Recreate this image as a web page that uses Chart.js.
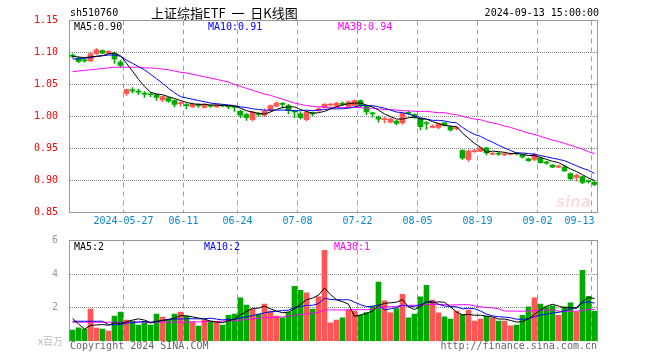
<!DOCTYPE html>
<html>
<head>
<meta charset="utf-8">
<script src="https://cdn.jsdelivr.net/npm/chart.js@4.4.1/dist/chart.umd.min.js"></script>
<style>
  body { margin: 0; background: #fff; }
  #wrap { position: relative; width: 660px; height: 360px; overflow: hidden; font-family: "DejaVu Sans Mono", monospace; font-size: 10px; }
  canvas { position: absolute; left: 0; top: 0; }
  .t { position: absolute; white-space: pre; line-height: 12px; }
</style>
</head>
<body>
<div id="wrap">
  <canvas id="kline" width="660" height="360"></canvas>
  <canvas id="vol" width="660" height="360"></canvas>
  <div class="t" style="left:70px;top:7px;color:#000;">sh510760</div>
  <div class="t" style="left:151px;top:4px;font:13px 'Noto Sans CJK SC';line-height:17px;color:#000;">上证综指ETF  一  日K线图</div>
  <div class="t" style="right:61px;top:7px;color:#000;">2024-09-13 15:00:00</div>
  <div class="t" id="ma5" style="left:74px;top:21px;color:#000;"></div>
  <div class="t" id="ma10" style="left:208px;top:21px;color:#0000ff;"></div>
  <div class="t" id="ma30" style="left:338px;top:21px;color:#ff00ff;"></div>
  <div class="t" id="vma5" style="left:74px;top:241px;color:#000;"></div>
  <div class="t" id="vma10" style="left:204px;top:241px;color:#0000ff;"></div>
  <div class="t" id="vma30" style="left:334px;top:241px;color:#ff00ff;"></div>
  <div class="t" style="left:38px;top:335px;font:10px 'Noto Sans CJK SC';line-height:12px;color:#bbb;">x百万</div>
  <div class="t" style="left:70px;top:340px;color:#666;">Copyright 2024 SINA.COM</div>
  <div class="t" style="right:63px;top:340px;color:#666;">http://finance.sina.com.cn</div>
  <div class="t" style="left:556px;top:193px;font:italic bold 15px 'DejaVu Sans';color:rgba(240,140,140,0.28);">sina</div>
</div>
<script>
const dates = ['05-14','05-15','05-16','05-17','05-20','05-21','05-22','05-23','05-24','05-27','05-28','05-29','05-30','05-31',
  '06-03','06-04','06-05','06-06','06-07','06-11','06-12','06-13','06-14','06-17','06-18','06-19','06-20','06-21','06-24','06-25','06-26','06-27','06-28',
  '07-01','07-02','07-03','07-04','07-05','07-08','07-09','07-10','07-11','07-12','07-15','07-16','07-17','07-18','07-19','07-22','07-23','07-24','07-25','07-26','07-29','07-30','07-31',
  '08-01','08-02','08-05','08-06','08-07','08-08','08-09','08-12','08-13','08-14','08-15','08-16','08-19','08-20','08-21','08-22','08-23','08-26','08-27','08-28','08-29','08-30',
  '09-02','09-03','09-04','09-05','09-06','09-09','09-10','09-11','09-12','09-13'];
const tickLabels = ['2024-05-27','06-11','06-24','07-08','07-22','08-05','08-19','09-02','09-13'];
const priceTicks = [0.85, 0.90, 0.95, 1.00, 1.05, 1.10, 1.15];
const volTicks = [0, 2, 4, 6];

const opens = [1.096,1.091,1.088,1.087,1.098,1.103,1.099,1.098,1.085,1.036,1.041,1.039,1.036,1.035,1.034,1.026,1.029,1.025,1.020,1.018,
  1.015,1.018,1.014,1.017,1.015,1.018,1.016,1.015,1.008,1.003,0.995,1.004,1.002,1.009,1.016,1.020,1.017,1.008,1.004,0.995,
  1.005,1.009,1.014,1.018,1.016,1.020,1.015,1.017,1.025,1.016,1.005,0.999,0.995,0.991,0.993,0.990,1.006,1.003,0.996,0.990,
  0.983,0.983,0.990,0.984,0.981,0.947,0.933,0.945,0.946,0.951,0.941,0.942,0.940,0.941,0.943,0.940,0.934,0.933,0.935,0.929,
  0.924,0.921,0.921,0.911,0.905,0.906,0.899,0.897];
const closes = [1.094,1.086,1.087,1.098,1.104,1.099,1.102,1.090,1.080,1.042,1.040,1.038,1.035,1.034,1.030,1.031,1.024,1.019,1.021,1.017,
  1.019,1.017,1.019,1.016,1.018,1.017,1.015,1.014,1.002,0.998,1.007,1.003,1.008,1.017,1.021,1.019,1.009,1.007,0.998,1.007,
  1.004,1.012,1.019,1.019,1.021,1.019,1.023,1.025,1.017,1.007,1.004,0.996,0.996,0.996,0.989,1.005,1.005,0.999,0.984,0.989,
  0.984,0.989,0.986,0.979,0.982,0.935,0.946,0.946,0.951,0.943,0.942,0.941,0.941,0.942,0.942,0.937,0.931,0.941,0.928,0.927,
  0.921,0.922,0.915,0.903,0.908,0.897,0.898,0.894];
const highs = [1.098,1.093,1.090,1.100,1.106,1.104,1.103,1.101,1.088,1.043,1.045,1.043,1.039,1.037,1.036,1.032,1.030,1.026,1.023,1.020,
  1.021,1.020,1.020,1.018,1.019,1.019,1.017,1.016,1.010,1.005,1.008,1.006,1.012,1.018,1.023,1.022,1.019,1.010,1.007,1.008,
  1.007,1.014,1.020,1.020,1.022,1.023,1.024,1.026,1.026,1.017,1.006,1.001,0.999,0.998,0.994,1.006,1.008,1.004,0.997,0.992,
  0.987,0.990,0.991,0.985,0.985,0.948,0.948,0.949,0.952,0.952,0.944,0.944,0.943,0.943,0.944,0.941,0.935,0.943,0.937,0.930,
  0.925,0.924,0.924,0.912,0.910,0.907,0.901,0.900];
const lows = [1.092,1.084,1.085,1.086,1.097,1.098,1.097,1.083,1.077,1.033,1.037,1.034,1.030,1.031,1.025,1.023,1.022,1.015,1.016,1.012,
  1.014,1.014,1.013,1.014,1.014,1.015,1.012,1.008,0.998,0.994,0.993,1.000,1.000,1.008,1.015,1.013,1.004,0.998,0.996,0.993,
  1.001,1.008,1.013,1.016,1.015,1.017,1.014,1.016,1.014,1.003,0.999,0.991,0.990,0.990,0.987,0.988,1.003,0.997,0.979,0.980,
  0.982,0.981,0.985,0.977,0.979,0.933,0.930,0.944,0.945,0.940,0.940,0.939,0.939,0.940,0.940,0.935,0.930,0.931,0.927,0.925,
  0.920,0.920,0.914,0.900,0.899,0.895,0.896,0.892];

const ma5 = [1.094,1.093,1.092,1.093,1.094,1.095,1.098,1.099,1.095,1.083,1.071,1.058,1.047,1.038,1.035,1.034,1.031,1.028,1.025,1.022,
  1.020,1.019,1.019,1.018,1.018,1.017,1.017,1.016,1.013,1.009,1.007,1.005,1.004,1.007,1.011,1.014,1.015,1.015,1.011,1.008,
  1.005,1.006,1.008,1.012,1.015,1.018,1.020,1.021,1.021,1.018,1.015,1.010,1.004,1.000,0.996,0.996,0.998,0.999,0.996,0.996,
  0.992,0.989,0.986,0.985,0.984,0.974,0.966,0.958,0.952,0.944,0.946,0.945,0.944,0.942,0.942,0.941,0.939,0.939,0.936,0.933,
  0.930,0.928,0.923,0.918,0.914,0.909,0.904,0.900];
const ma10 = [1.090,1.090,1.091,1.092,1.094,1.095,1.096,1.096,1.094,1.088,1.083,1.078,1.073,1.066,1.059,1.052,1.044,1.037,1.031,1.029,
  1.027,1.025,1.023,1.021,1.020,1.019,1.018,1.017,1.015,1.014,1.012,1.011,1.010,1.010,1.010,1.010,1.010,1.009,1.009,1.010,
  1.009,1.010,1.011,1.012,1.012,1.012,1.013,1.015,1.017,1.017,1.017,1.015,1.013,1.010,1.007,1.006,1.004,1.001,0.998,0.996,
  0.994,0.994,0.993,0.991,0.990,0.983,0.977,0.972,0.969,0.964,0.960,0.955,0.951,0.947,0.943,0.943,0.942,0.941,0.939,0.937,
  0.935,0.933,0.931,0.927,0.923,0.919,0.916,0.911];
const ma30 = [1.070,1.071,1.072,1.073,1.074,1.075,1.076,1.077,1.077,1.077,1.077,1.077,1.076,1.076,1.075,1.074,1.073,1.071,1.069,1.068,
  1.066,1.064,1.062,1.060,1.058,1.056,1.054,1.050,1.047,1.044,1.041,1.038,1.035,1.033,1.030,1.027,1.024,1.021,1.019,1.017,
  1.016,1.015,1.015,1.014,1.014,1.014,1.014,1.014,1.014,1.013,1.013,1.012,1.011,1.011,1.010,1.009,1.009,1.008,1.008,1.008,
  1.007,1.006,1.006,1.004,1.003,1.000,0.998,0.996,0.995,0.992,0.990,0.988,0.985,0.983,0.980,0.977,0.974,0.972,0.969,0.966,
  0.963,0.961,0.958,0.955,0.952,0.949,0.945,0.942];

// volume, millions
const volumes = [0.65,0.79,0.71,1.90,0.77,0.71,0.59,1.49,1.72,1.25,1.19,0.95,1.15,0.95,1.60,1.43,1.25,1.60,1.72,1.49,
  1.15,0.89,1.25,1.19,1.15,0.95,1.54,1.60,2.57,2.14,1.90,1.60,2.20,1.78,1.49,1.39,1.72,3.27,3.03,2.87,
  1.90,2.63,5.41,1.09,1.25,1.39,1.84,1.78,1.54,1.70,2.08,3.52,2.40,1.68,1.94,2.79,1.39,1.60,2.63,3.33,
  2.44,1.68,1.45,1.31,1.78,1.58,1.84,1.19,1.31,1.49,1.39,1.19,1.19,0.91,0.95,1.54,2.04,2.57,2.20,2.04,
  2.10,1.54,2.04,2.28,1.74,4.22,2.67,1.78];
const vma5 = [1.35,1.02,0.72,0.93,0.96,0.98,0.94,1.09,1.06,1.15,1.25,1.32,1.25,1.10,1.17,1.22,1.28,1.37,1.52,1.50,
  1.44,1.37,1.30,1.19,1.13,1.09,1.22,1.29,1.56,1.76,1.95,1.96,2.08,1.92,1.79,1.69,1.72,1.93,2.18,2.46,
  2.56,2.74,3.17,2.78,2.46,2.35,2.20,1.47,1.56,1.65,1.79,2.12,2.25,2.28,2.32,2.47,2.04,1.88,2.07,2.35,
  2.28,2.34,2.31,2.04,1.73,1.56,1.59,1.54,1.54,1.48,1.44,1.31,1.31,1.23,1.13,1.16,1.33,1.60,1.86,2.08,
  2.19,2.09,1.98,2.00,1.94,2.36,2.59,2.54];
const vma10 = [1.18,1.18,1.18,1.18,1.18,1.18,0.98,0.96,1.00,1.06,1.11,1.13,1.17,1.08,1.16,1.23,1.30,1.31,1.31,1.33,
  1.33,1.32,1.33,1.36,1.31,1.26,1.29,1.29,1.38,1.44,1.52,1.59,1.68,1.74,1.78,1.82,1.84,2.01,2.05,2.13,
  2.13,2.23,2.55,2.48,2.46,2.46,2.47,2.32,2.17,2.05,2.07,2.16,1.86,1.92,1.99,2.13,2.08,2.06,2.17,2.34,
  2.37,2.19,2.09,2.06,2.04,1.92,1.96,1.92,1.79,1.61,1.50,1.45,1.43,1.39,1.30,1.30,1.32,1.46,1.55,1.60,
  1.67,1.71,1.79,1.93,2.01,2.28,2.34,2.26];
const vma30 = [1.12,1.12,1.12,1.12,1.12,1.12,1.12,1.12,1.12,1.12,1.13,1.13,1.13,1.13,1.13,1.13,1.13,1.13,1.13,1.13,
  1.14,1.14,1.15,1.16,1.17,1.18,1.20,1.22,1.25,1.28,1.32,1.35,1.40,1.39,1.42,1.44,1.48,1.54,1.58,1.63,
  1.66,1.71,1.86,1.86,1.85,1.85,1.87,1.87,1.87,1.87,1.91,1.99,2.03,2.05,2.07,2.14,2.13,2.13,2.13,2.17,
  2.19,2.19,2.17,2.15,2.16,2.17,2.17,2.10,2.05,2.00,1.98,1.93,1.79,1.79,1.78,1.78,1.79,1.82,1.84,1.85,
  1.85,1.78,1.77,1.79,1.78,1.83,1.88,1.88];

const upColor = '#ff5555';
const downColor = '#00a800';
const candleColors = opens.map((o, i) => closes[i] > o ? upColor : downColor);
const tickIdx = tickLabels.map(t => dates.indexOf(t.slice(-5)));
const mono = 'DejaVu Sans Mono';

const last = a => a[a.length - 1];
document.getElementById('ma5').textContent = 'MA5:' + last(ma5).toFixed(2);
document.getElementById('ma10').textContent = 'MA10:' + last(ma10).toFixed(2);
document.getElementById('ma30').textContent = 'MA30:' + last(ma30).toFixed(2);
document.getElementById('vma5').textContent = 'MA5:' + Math.floor(last(vma5));
document.getElementById('vma10').textContent = 'MA10:' + Math.floor(last(vma10));
document.getElementById('vma30').textContent = 'MA30:' + Math.floor(last(vma30));

// dotted levels and the frame; the dashed date lines are the x grid
const panelLevels = { kline: priceTicks, vol: volTicks };
const gridPlugin = {
  id: 'sinaGrid',
  beforeDatasetsDraw(chart) {
    const ctx = chart.ctx, a = chart.chartArea;
    const y = chart.scales.y;
    const L = Math.floor(a.left), R = Math.floor(a.right), T = Math.floor(a.top), B = Math.floor(a.bottom);
    ctx.save();
    ctx.fillStyle = '#888';
    panelLevels[chart.canvas.id].forEach(v => {
      if (v <= y.min || v >= y.max) return;
      const py = Math.floor(y.getPixelForValue(v));
      for (let px = L + 1; px < R; px += 2) ctx.fillRect(px, py, 1, 1);
    });
    ctx.fillStyle = '#999';
    ctx.fillRect(L, T, R - L + 1, 1);
    ctx.fillRect(L, T, 1, B - T + 1);
    ctx.fillRect(R, T, 1, B - T + 1);
    if (chart.canvas.id === 'kline') ctx.fillRect(L, B, R - L + 1, 1);
    ctx.restore();
  }
};

// grid line i sits on the left edge of candle i
const dateGrid = {
  display: true,
  offset: true,
  drawTicks: false,
  lineWidth: 1,
  color: c => tickIdx.includes(c.index) ? '#a0a0a0' : 'rgba(0,0,0,0)'
};

function maLine(data, color) {
  return { type: 'line', data: data, borderColor: color, borderWidth: 1, pointRadius: 0, tension: 0 };
}

new Chart(document.getElementById('kline'), {
  type: 'bar',
  data: {
    labels: dates,
    datasets: [
      maLine(ma5, '#000000'),
      maLine(ma10, '#0000ff'),
      maLine(ma30, '#ff00ff'),
      { data: opens.map((o, i) => [o, closes[i]]), backgroundColor: candleColors, barThickness: 5, minBarLength: 1, grouped: false },
      { data: lows.map((l, i) => [l, highs[i]]), backgroundColor: candleColors, barThickness: 1, grouped: false }
    ]
  },
  options: {
    responsive: false,
    animation: false,
    events: [],
    layout: { autoPadding: false, padding: { left: 0, right: 62.5, top: 20.5, bottom: 127.5 } },
    plugins: { legend: { display: false }, tooltip: { enabled: false } },
    scales: {
      x: {
        type: 'category',
        offset: true,
        grid: dateGrid,
        border: { display: false, dash: [5, 4] },
        afterFit: s => { s.height = 20; },
        ticks: {
          autoSkip: false, maxRotation: 0, padding: 3, labelOffset: -3,
          color: '#0a84d0', font: { family: mono, size: 10 },
          callback: (v, i) => {
            const k = tickIdx.indexOf(i);
            if (k < 0) return '';
            // the last date sits left of its line, as on the site
            return k === tickLabels.length - 1 ? tickLabels[k] + '    ' : tickLabels[k];
          }
        }
      },
      y: {
        min: 0.85, max: 1.15,
        afterFit: s => { s.width = 69.5; },
        afterBuildTicks: s => { s.ticks = priceTicks.map(v => ({ value: v })); },
        grid: { display: false },
        border: { display: false },
        ticks: { padding: 3.5, color: '#ff0000', font: { family: mono, size: 10 }, callback: v => v.toFixed(2) }
      }
    }
  },
  plugins: [gridPlugin]
});

new Chart(document.getElementById('vol'), {
  type: 'bar',
  data: {
    labels: dates,
    datasets: [
      maLine(vma5, '#000000'),
      maLine(vma10, '#0000ff'),
      maLine(vma30, '#ff00ff'),
      { data: volumes, backgroundColor: candleColors, barThickness: 5, grouped: false }
    ]
  },
  options: {
    responsive: false,
    animation: false,
    events: [],
    layout: { autoPadding: false, padding: { left: 0, right: 62.5, top: 240.5, bottom: 19 } },
    plugins: { legend: { display: false }, tooltip: { enabled: false } },
    scales: {
      x: {
        type: 'category',
        offset: true,
        grid: dateGrid,
        border: { display: false, dash: [5, 4] },
        afterFit: s => { s.height = 0; },
        ticks: { display: false, autoSkip: false }
      },
      y: {
        min: 0, max: 6,
        afterFit: s => { s.width = 69.5; },
        afterBuildTicks: s => { s.ticks = volTicks.map(v => ({ value: v })); },
        grid: { display: false },
        border: { display: false },
        ticks: { padding: 3.5, color: '#999', font: { family: mono, size: 10 }, callback: v => v === 0 ? '' : String(v) }
      }
    }
  },
  plugins: [gridPlugin]
});
</script>
</body>
</html>
